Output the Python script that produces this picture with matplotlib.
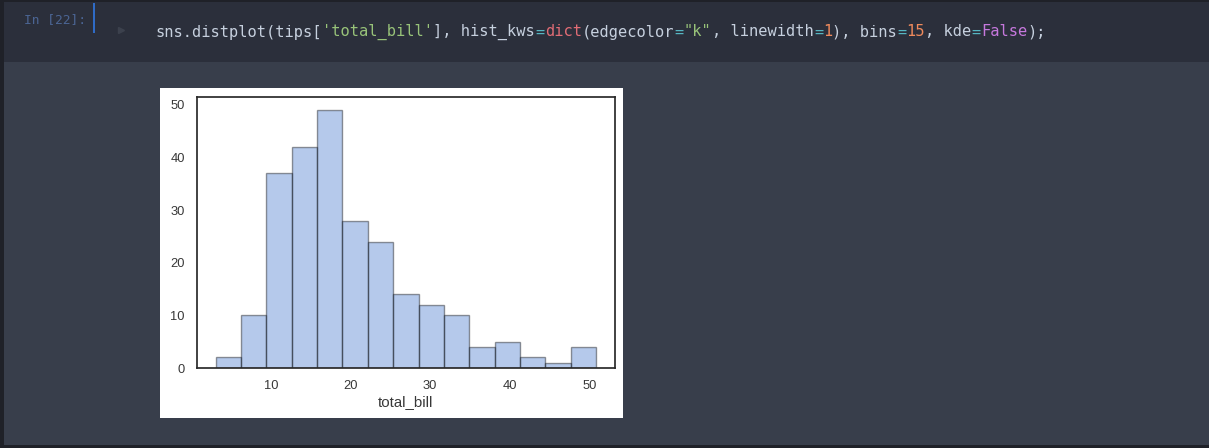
import matplotlib
matplotlib.use("Agg")
import matplotlib.pyplot as plt
from matplotlib.patches import Rectangle
import numpy as np

# ---- data ----
bin_edges = [3.07, 6.25, 9.44, 12.62, 15.80, 18.98, 22.17, 25.35, 28.53,
             31.71, 34.90, 38.08, 41.26, 44.45, 47.63, 50.81]
counts = [2, 10, 37, 42, 49, 28, 24, 14, 12, 10, 4, 5, 2, 1, 4]
xticks = [10, 20, 30, 40, 50]
yticks = [0, 10, 20, 30, 40, 50]
xlabel = "total_bill"
prompt = "In [22]:"
code_segments = [
    ("sns.distplot(tips[", "default"),
    ("'total_bill'", "string"),
    ("], hist_kws", "default"),
    ("=", "op"),
    ("dict", "builtin"),
    ("(edgecolor", "default"),
    ("=", "op"),
    ('"k"', "string"),
    (", linewidth", "default"),
    ("=", "op"),
    ("1", "number"),
    ("), bins", "default"),
    ("=", "op"),
    ("15", "number"),
    (", kde", "default"),
    ("=", "op"),
    ("False", "keyword"),
    (");", "default"),
]
token_colors = {
    "default": "#c6d0de",
    "string": "#98c379",
    "op": "#56b6c2",
    "builtin": "#e06c75",
    "number": "#ef8a5c",
    "keyword": "#c678dd",
}

W, H = 1209, 448
DPI = 100
fig = plt.figure(figsize=(W / DPI, H / DPI), dpi=DPI, facecolor="#1f2128")

# background layer in pixel coordinates
bg = fig.add_axes([0, 0, 1, 1])
bg.set_xlim(0, W)
bg.set_ylim(H, 0)
bg.axis("off")
bg.add_patch(Rectangle((4, 2), W - 4, 60, facecolor="#2b2f3b", edgecolor="none"))
bg.add_patch(Rectangle((4, 62), W - 4, 383, facecolor="#383e4b", edgecolor="none"))
bg.add_patch(Rectangle((92.5, 3), 2.5, 30, facecolor="#2f6bc6", edgecolor="none"))
bg.plot([120.5], [30], marker=">", markersize=5, color="#3c414d", linestyle="none")
bg.add_patch(Rectangle((160, 88), 463, 330, facecolor="white", edgecolor="none"))

bg.text(24, 20, prompt, family="DejaVu Sans Mono", fontsize=9.3,
        color="#4b6594", ha="left", va="center")

cw = 9.28  # pixel advance per monospace character
fs_code = cw / 0.602 * 72 / DPI
x = 155.0
for seg, kind in code_segments:
    bg.text(x, 32, seg, family="DejaVu Sans Mono", fontsize=fs_code,
            color=token_colors[kind], ha="left", va="center")
    x += len(seg) * cw

# ---- chart ----
left, right, top, bottom = 196.7, 615.0, 97.3, 368.0
ax = fig.add_axes([left / W, (H - bottom) / H, (right - left) / W, (bottom - top) / H])
ax.set_facecolor("white")
ax.hist(bin_edges[:-1], bins=bin_edges, weights=counts, color="#4878CF",
        alpha=0.4, edgecolor="k", linewidth=1)
ax.set_xticks(xticks)
ax.set_yticks(yticks)
for sp in ax.spines.values():
    sp.set_color("#2a2a2a")
    sp.set_linewidth(1.25)
ax.tick_params(length=0, pad=8.5, labelsize=9.3, labelcolor="#383838")
for lbl in ax.get_xticklabels() + ax.get_yticklabels():
    lbl.set_family(["Liberation Sans", "DejaVu Sans"])
ax.set_xlabel(xlabel, fontsize=10.8, color="#383838",
              family=["Liberation Sans", "DejaVu Sans"], labelpad=2)

fig.savefig("out.png", dpi=DPI, facecolor=fig.get_facecolor())
